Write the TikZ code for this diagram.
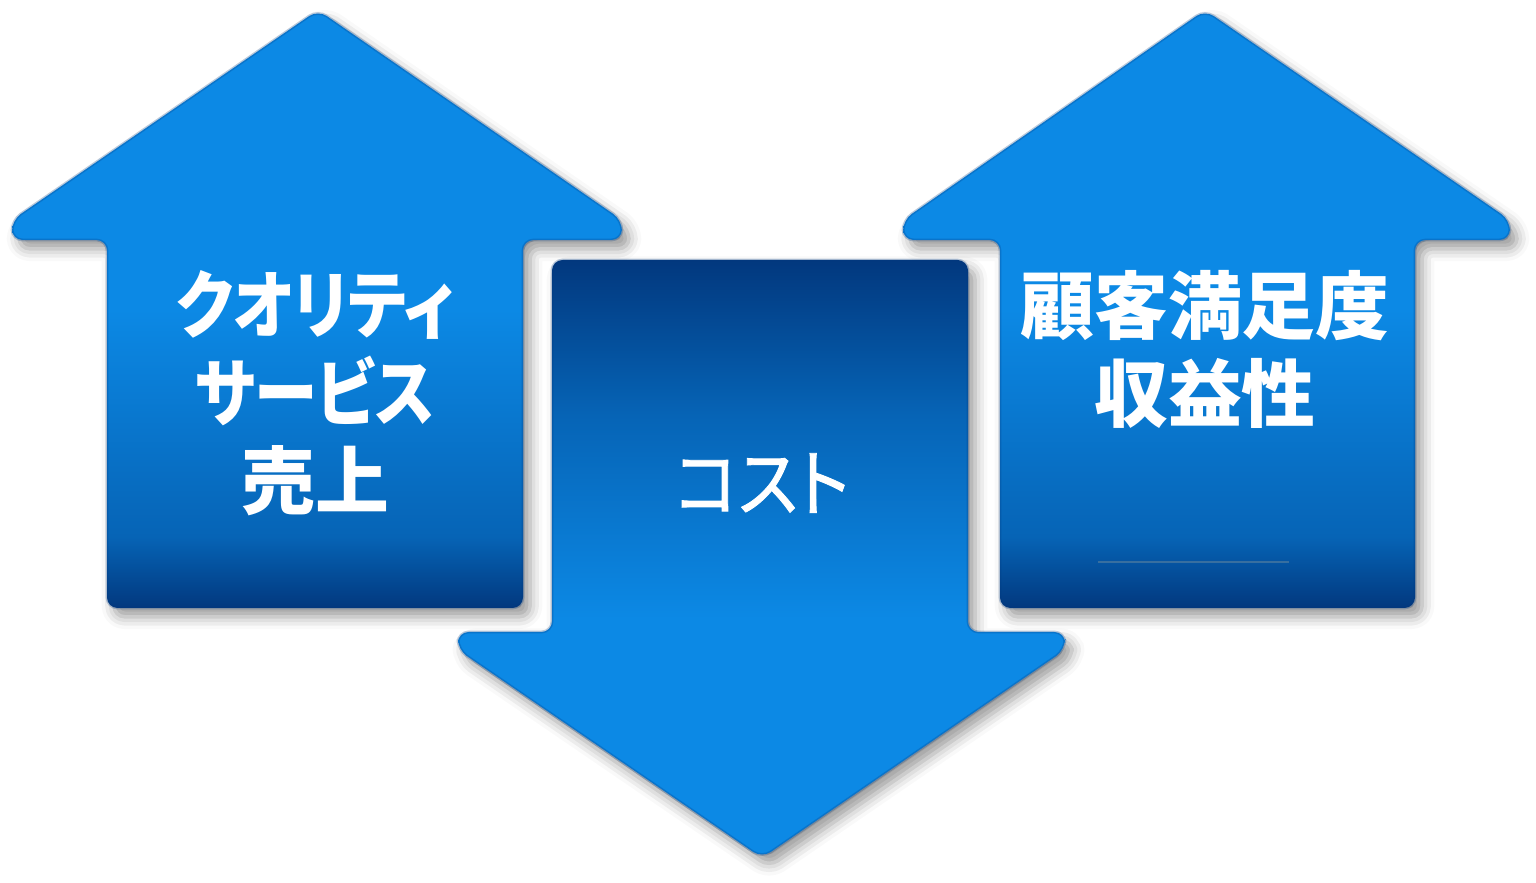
\documentclass[tikz,border=0pt]{standalone}
\usepackage{fontspec}
\newfontfamily\jpfont{Noto Sans CJK JP}[CharacterWidth=AlternateProportional]
\newfontfamily\jpkana{Noto Sans CJK JP}[CharacterWidth=AlternateProportional, FakeStretch=0.86]
\newfontfamily\jpmedio{Noto Sans CJK JP}[CharacterWidth=AlternateProportional, FakeBold=1.2, FakeStretch=0.9]
\usetikzlibrary{shadows.blur}

\definecolor{azulclaro}{RGB}{12,137,229}
\definecolor{azulmedio}{RGB}{6,100,182}
\definecolor{azulescuro}{RGB}{2,56,126}

\pgfdeclareverticalshading{sobe}{100bp}{color(0bp)=(azulescuro); color(25bp)=(azulescuro); color(31bp)=(azulmedio); color(50bp)=(azulclaro); color(100bp)=(azulclaro)}
\pgfdeclareverticalshading{desce}{100bp}{color(0bp)=(azulclaro); color(25bp)=(azulclaro); color(45bp)=(azulclaro); color(62bp)=(azulmedio); color(75bp)=(azulescuro); color(100bp)=(azulescuro)}

\begin{document}
\begin{tikzpicture}[x=0.01cm,y=-0.01cm,
  seta/.style={rounded corners=3pt, draw=azulescuro, draw opacity=0.25, line width=0.8pt,
    blur shadow={shadow xshift=2pt, shadow yshift=-2.5pt, shadow blur radius=3.5pt, shadow opacity=40}},
  rotulo/.style={text=white, align=center, font=\jpfont\bfseries\fontsize{21}{25}\selectfont}]

\useasboundingbox (0,0) rectangle (1536,883);

% setas para cima
\path[seta, shading=sobe] (107,608) -- (107,240) -- (12,240) -- (12,220) -- (318,10)
  -- (622,220) -- (622,240) -- (523,240) -- (523,608) -- cycle;
\path[seta, shading=sobe] (1000,608) -- (1000,240) -- (903,240) -- (903,220) -- (1205,10)
  -- (1510,220) -- (1510,240) -- (1415,240) -- (1415,608) -- cycle;

% seta para baixo
\path[seta, shading=desce] (552,260) -- (968,260) -- (968,632) -- (1065,632) -- (1065,650)
  -- (762,858) -- (458,650) -- (458,632) -- (552,632) -- cycle;

% linha fina
\draw[azulmedio!60!gray, line width=0.6pt] (1098,562) -- (1289,562);

\node[rotulo] (qualidade) at (315,393) {{\jpkana\bfseries クオリティ}\\{\jpkana\bfseries サービス}\\売上};
\node[rotulo, font=\jpmedio\fontsize{21}{25}\selectfont] (custo) at (762,483) {コスト};
\node[rotulo] (satisfacao) at (1205,349) {顧客満足度\\収益性};

\end{tikzpicture}
\end{document}
